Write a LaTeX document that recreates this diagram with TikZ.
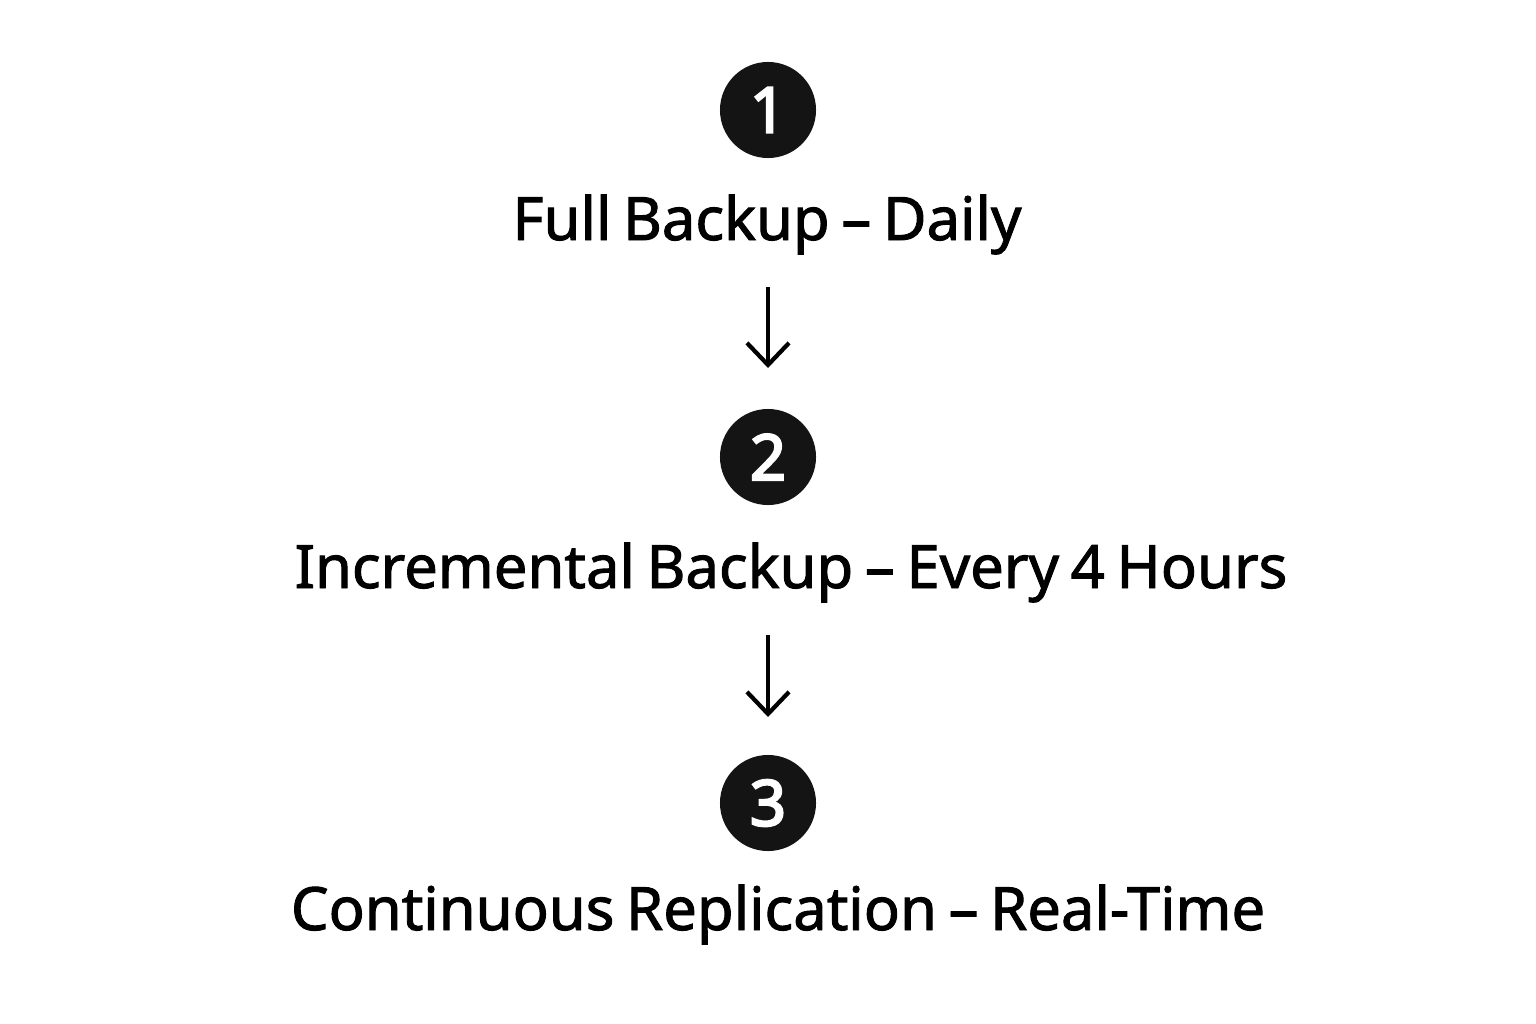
\documentclass[tikz,border=0pt]{standalone}
\usepackage{fontspec}
\setmainfont{Noto Sans}[FakeBold=1.6, WordSpace=0.75]
\newfontfamily\numfont{Noto Sans}[FakeBold=3.5]
\usetikzlibrary{arrows.meta}

\begin{document}
\begin{tikzpicture}[x=0.01cm, y=-0.01cm, line width=1.2pt,
  stepnum/.style={circle, fill=black!92, minimum size=0.96cm, inner sep=0pt,
    text=white, font=\fontsize{18}{20}\numfont},
  steplabel/.style={anchor=base, font=\fontsize{17}{20}\selectfont},
  flow/.style={-{Straight Barb[length=0.22cm, width=0.42cm, line width=1.2pt]}}]

% canvas
\useasboundingbox (0, 0) rectangle (1536, 1024);

% step circles
\node[stepnum] (one) at (768, 110) {1};
\node[stepnum] (two) at (768, 457) {2};
\node[stepnum] (three) at (768, 803) {3};

% step labels
\node[steplabel] (full) at (767, 240) {Full Backup -- Daily};
\node[steplabel] (incr) at (791, 588) {Incremental Backup -- Every 4 Hours};
\node[steplabel] (repl) at (778, 930) {Continuous Replication -- Real-Time};

% arrows
\coordinate (a1) at (768, 287);
\coordinate (b1) at (768, 368);
\coordinate (a2) at (768, 635);
\coordinate (b2) at (768, 717);
\draw[flow] (a1) -- (b1);
\draw[flow] (a2) -- (b2);

\end{tikzpicture}
\end{document}
